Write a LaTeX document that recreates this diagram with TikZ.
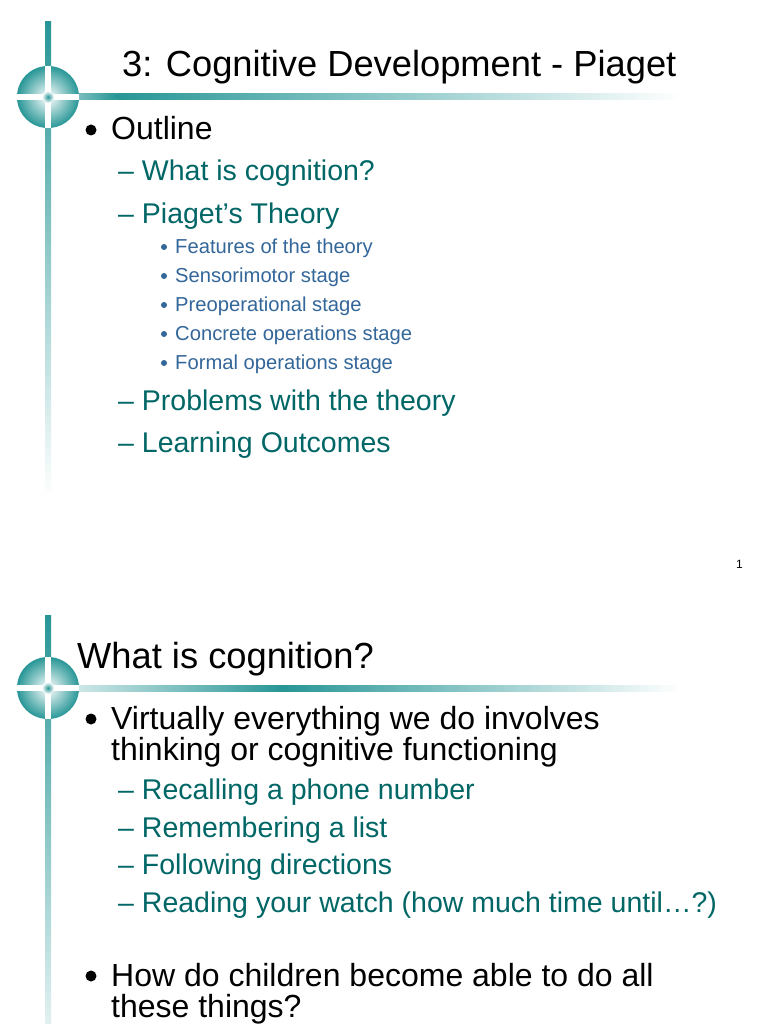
\documentclass[tikz,border=0pt]{standalone}
\usepackage{fontspec}
\setmainfont{Liberation Sans}
\definecolor{teal}{RGB}{0,102,102}
\definecolor{orn}{RGB}{40,150,150}
\definecolor{sub}{RGB}{51,102,153}
\begin{document}
\begin{tikzpicture}[x=1pt,y=-1pt,
  t/.style={anchor=base west,inner sep=0pt,font=\fontsize{36.3}{36}\selectfont},
  l1/.style={anchor=base west,inner sep=0pt,font=\fontsize{32}{32}\selectfont},
  l2/.style={anchor=base west,inner sep=0pt,text=teal,font=\fontsize{28.5}{28}\selectfont},
  l3/.style={anchor=base west,inner sep=0pt,text=sub,font=\fontsize{20.2}{20}\selectfont},
  dot1/.style={circle,fill=black,inner sep=0pt,minimum size=11pt},
  dot3/.style={circle,fill=sub,inner sep=0pt,minimum size=6pt}]
\useasboundingbox (0,0) rectangle (768,1024);
\fill[white] (0,0) rectangle (768,1024);
% ornaments
\foreach \cy/\vtop/\hm in {97/22/0.15, 688/615/0.4}{
  \shade[top color=orn,bottom color=white] (45,\vtop) rectangle (51,\cy+400);
  \shade[left color=white,right color=orn] (17,\cy-3) rectangle ({17+663*\hm},\cy+3);
  \shade[left color=orn,right color=white] ({17+663*\hm},\cy-3) rectangle (680,\cy+3);
  \shade[inner color=white,outer color=orn] (48,\cy) circle (31);
  \fill[white] (45,\cy-31) rectangle (51,\cy+31);
  \fill[white] (17,\cy-3) rectangle (79,\cy+3);
  \shade[inner color=orn,outer color=white] (48,\cy) circle (6);
}
% slide 1
\node[t] (title1) at (122,77) {3: Cognitive Development - Piaget};
\node[dot1] (b1) at (91,130) {};
\node[l1] (outline) at (111,140) {Outline};
\node[l2] (a1) at (118,181) {– What is cognition?};
\node[l2] (a2) at (118,223) {– Piaget’s Theory};
\foreach \y/\s [count=\i] in {253/Features of the theory,282/Sensorimotor stage,311/Preoperational stage,340/Concrete operations stage,369/Formal operations stage}{
  \node[dot3] (d\i) at (164,\y-6) {};
  \node[l3] (s\i) at (175,\y) {\s};
}
\node[l2] (a3) at (118,410) {– Problems with the theory};
\node[l2] (a4) at (118,452) {– Learning Outcomes};
\node[anchor=base east,inner sep=0pt,font=\fontsize{12}{12}\selectfont] (pg) at (743,568) {1};
% slide 2
\node[t] (title2) at (77,668) {What is cognition?};
\node[dot1] (b2) at (91,719) {};
\node[l1] (v1) at (111,729) {Virtually everything we do involves};
\node[l1] (v2) at (111,760) {thinking or cognitive functioning};
\node[l2] (r1) at (118,799) {– Recalling a phone number};
\node[l2] (r2) at (118,837) {– Remembering a list};
\node[l2] (r3) at (118,874) {– Following directions};
\node[l2] (r4) at (118,912) {– Reading your watch (how much time until…?)};
\node[dot1] (b3) at (91,976) {};
\node[l1] (h1) at (111,986) {How do children become able to do all};
\node[l1] (h2) at (111,1017) {these things?};
\end{tikzpicture}
\end{document}
